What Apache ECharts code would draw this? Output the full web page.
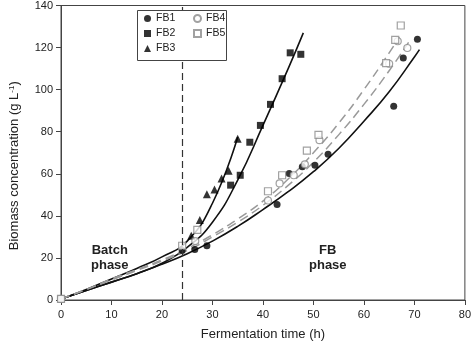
<!DOCTYPE html>
<html>
<head>
<meta charset="utf-8">
<script src="https://cdn.jsdelivr.net/npm/echarts@6/dist/echarts.min.js"></script>
<style>
  html, body { margin: 0; padding: 0; background: #fff; }
  #chart { width: 474px; height: 346px; }
</style>
</head>
<body>
<div id="chart"></div>
<script>
// Measured biomass (time h, concentration g/L) for each fermentation run
const fb1Points = [[0,0.5],[24,23.5],[26.5,24],[28.9,25.8],[42.8,45.4],[45.2,60.1],[47.8,63.3],[50.3,64.1],[52.9,69.3],[65.9,92.1],[67.8,115],[70.6,123.9]];
const fb2Points = [[0,0.5],[33.6,54.6],[35.5,59.3],[37.4,75],[39.5,83],[41.5,93],[43.8,105.2],[45.4,117.5],[47.5,116.8]];
const fb3Points = [[25.8,30.5],[27.5,38],[28.9,50.3],[30.4,52.5],[31.8,57.8],[33.2,61.4],[35,76.7]];
const fb4Points = [[0,0.5],[26.6,28],[41,47.3],[43.3,55.4],[46.1,59.3],[48.3,64.5],[51.2,76],[65,112.3],[66.7,123],[68.6,119.8]];
const fb5Points = [[0,0.5],[24,25.8],[27,33.3],[41,51.7],[43.8,59.3],[48.7,71],[51,78.5],[64.4,112.6],[66.2,123.7],[67.3,130.5]];

// Fitted growth curves, read every 5 h
const fb1Fit = [[0,0.5],[5,4.5],[10,8.5],[15,12.5],[20,17],[25,22],[30,28],[35,35],[40,43],[45,51.5],[50,61],[55,72],[60,85],[65,99],[70,115.5],[71,119]];
const fb2Fit = [[0,0.5],[5,4.5],[10,8.5],[15,12.5],[20,17.5],[25,25],[30,37],[35,57],[40,83],[45,110],[48,127]];
const fb3Fit = [[0,0.5],[5,5],[10,10],[15,15],[20,20.5],[25,28],[30,46],[35,77.5]];
const fb4Fit = [[0,0.5],[5,5],[10,9.5],[15,14],[20,18.5],[25,23.5],[30,30],[35,37],[40,45],[45,54.5],[50,65.5],[55,78.5],[60,93],[65,109],[69,123]];
const fb5Fit = [[0,0.5],[5,5],[10,10],[15,14.5],[20,19],[25,24.5],[30,31],[35,38.5],[40,47],[45,57.5],[50,70],[55,84],[60,100],[65,117.5],[67,125]];

const xTicks = { min: 0, max: 80, step: 10 };
const yTicks = { min: 0, max: 140, step: 20 };
const feedStart = 24;   // start of fed-batch feeding (h)

const FONT = 'Liberation Sans, Arial, sans-serif';
const INK = '#222';
const GREY_LINE = '#9a9a9a';
const GREY_MARK = '#8a8a8a';

function fitLine(name, data, dashed) {
  return {
    name: name, type: 'line', data: data, smooth: 0.5,
    symbol: 'none', silent: true, z: 2,
    lineStyle: dashed
      ? { color: GREY_LINE, width: 1.5, type: [9, 5] }
      : { color: '#111', width: 1.6 }
  };
}
function pointSeries(name, data, symbol, size, filled) {
  return {
    name: name, type: 'scatter', data: data, symbol: symbol, symbolSize: size, z: 3,
    itemStyle: filled
      ? { color: '#000' }
      : { color: '#fff', borderColor: GREY_MARK, borderWidth: 1.2 }
  };
}

const chart = echarts.init(document.getElementById('chart'), null, { renderer: 'canvas' });
chart.setOption({
  animation: false,
  backgroundColor: '#fff',
  textStyle: { fontFamily: FONT },
  grid: { left: 57, right: 7, top: 5, bottom: 46, show: true, borderColor: '#444', borderWidth: 1 },
  xAxis: {
    type: 'value', min: xTicks.min, max: xTicks.max, interval: xTicks.step,
    name: 'Fermentation time (h)', nameLocation: 'middle', nameGap: 28,
    nameTextStyle: { fontSize: 13, color: INK, fontFamily: FONT },
    axisLine: { lineStyle: { color: '#444', width: 1 } },
    axisTick: { inside: false, length: 5, lineStyle: { color: '#444' } },
    axisLabel: { fontSize: 11, color: INK, margin: 9, fontFamily: FONT },
    splitLine: { show: false }
  },
  yAxis: {
    type: 'value', min: yTicks.min, max: yTicks.max, interval: yTicks.step,
    name: 'Biomass concentration (g L{sup|-1})', nameLocation: 'middle', nameGap: 40,
    nameTextStyle: { fontSize: 13, color: INK, fontFamily: FONT, padding: [0, 26, 0, 0],
      rich: { sup: { fontSize: 8, color: INK, verticalAlign: 'top', fontFamily: FONT } } },
    axisLine: { show: true, lineStyle: { color: '#444', width: 1 } },
    axisTick: { show: true, inside: false, length: 5, lineStyle: { color: '#444' } },
    axisLabel: { fontSize: 11, color: INK, margin: 8, fontFamily: FONT },
    splitLine: { show: false }
  },
  legend: [
    { left: 144, top: 13, orient: 'vertical', padding: 0, itemGap: 4, itemWidth: 7, itemHeight: 7, z: 12,
      textStyle: { fontSize: 10.5, color: INK, fontFamily: FONT },
      data: [{ name: 'FB1', icon: 'circle' }, { name: 'FB2', icon: 'rect' }, { name: 'FB3', icon: 'triangle' }] },
    { left: 193, top: 13, orient: 'vertical', padding: 0, itemGap: 4, itemWidth: 7, itemHeight: 7, z: 12,
      textStyle: { fontSize: 10.5, color: INK, fontFamily: FONT },
      data: [{ name: 'FB4', icon: 'circle' }, { name: 'FB5', icon: 'rect' }] }
  ],
  graphic: [
    { type: 'rect', z: 10, shape: { x: 137.5, y: 10.5, width: 89, height: 50 },
      style: { fill: '#fff', stroke: '#444', lineWidth: 1 } },
    { type: 'text', left: 91, top: 243, z: 5,
      style: { text: 'Batch\nphase', lineHeight: 15, fill: INK, textAlign: 'center', font: 'bold 13px ' + FONT } },
    { type: 'text', left: 309, top: 243, z: 5,
      style: { text: 'FB\nphase', lineHeight: 15, fill: INK, textAlign: 'center', font: 'bold 13px ' + FONT } }
  ],
  series: [
    Object.assign(fitLine('FB1 fit', fb1Fit, false), {
      markLine: { silent: true, symbol: 'none', label: { show: false },
        lineStyle: { color: '#333', width: 1.2, type: [7, 4] },
        data: [{ xAxis: feedStart }] }
    }),
    fitLine('FB2 fit', fb2Fit, false),
    fitLine('FB3 fit', fb3Fit, false),
    fitLine('FB4 fit', fb4Fit, true),
    fitLine('FB5 fit', fb5Fit, true),
    pointSeries('FB1', fb1Points, 'circle', 7, true),
    pointSeries('FB2', fb2Points, 'rect', 7, true),
    pointSeries('FB3', fb3Points, 'triangle', 8, true),
    pointSeries('FB4', fb4Points, 'circle', 7, false),
    pointSeries('FB5', fb5Points, 'rect', 7, false)
  ]
});
</script>
</body>
</html>
